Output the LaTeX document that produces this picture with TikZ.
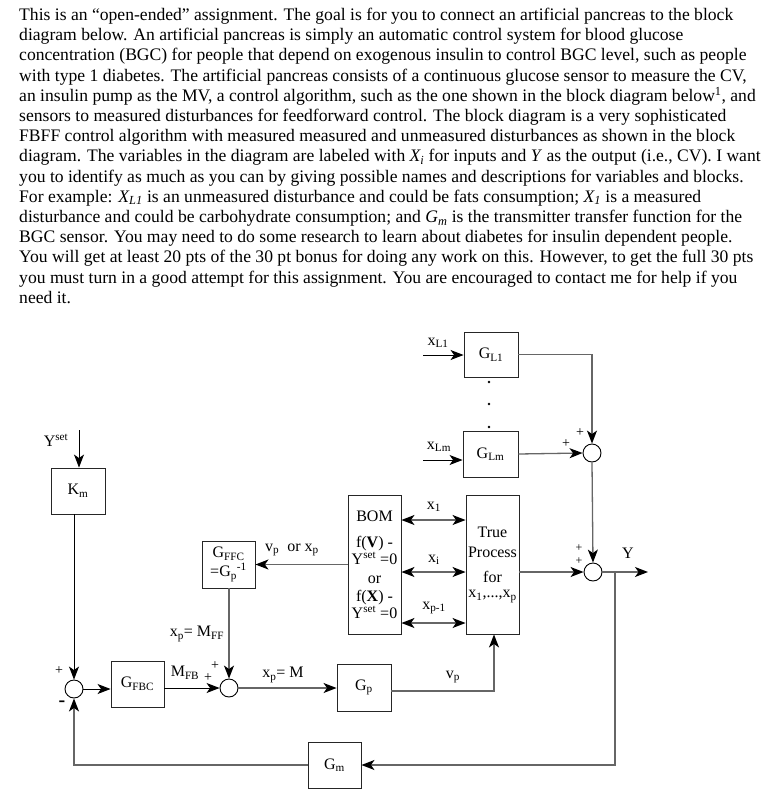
\documentclass[tikz,border=0pt]{standalone}
\usepackage{fontspec}
\setmainfont{Liberation Serif}
\usetikzlibrary{arrows.meta}
\newcommand{\sub}[1]{\textsubscript{#1}}
\newcommand{\sups}[1]{\textsuperscript{#1}}
\begin{document}
\begin{tikzpicture}[x=1pt,y=-1pt,
  para/.style={anchor=base west,inner sep=0pt,font=\fontsize{17.6}{20.2}\selectfont},
  blk/.style={draw=black!85,line width=0.9pt,inner sep=0pt,font=\fontsize{16}{17}\selectfont},
  sumc/.style={circle,draw=black,line width=0.9pt,minimum size=18pt,inner sep=0pt},
  lbl/.style={inner sep=0pt,font=\fontsize{16}{17}\selectfont},
  sgn/.style={inner sep=0pt,font=\fontsize{14}{14}\selectfont},
  tip/.style={-{Stealth[length=13pt,width=10pt,inset=3.5pt,color=black]}},
  dtip/.style={{Stealth[length=13pt,width=10pt,inset=3.5pt,color=black]}-{Stealth[length=13pt,width=10pt,inset=3.5pt,color=black]}},
  bconn/.style={draw=black,line width=0.9pt},
  gconn/.style={draw=black!60,line width=1.3pt}]
\useasboundingbox (0,0) rectangle (781,806);

% ---------- paragraph ----------
\node[para] (p1) at (19,20.5) {This is an “open-ended” assignment. The goal is for you to connect an artificial pancreas to the block};
\node[para] (p2) at (19,40.7) {diagram below. An artificial pancreas is simply an automatic control system for blood glucose};
\node[para] (p3) at (19,60.9) {concentration (BGC) for people that depend on exogenous insulin to control BGC level, such as people};
\node[para] (p4) at (19,81.1) {with type 1 diabetes. The artificial pancreas consists of a continuous glucose sensor to measure the CV,};
\node[para] (p5) at (19,101.3) {an insulin pump as the MV, a control algorithm, such as the one shown in the block diagram below\sups{1}, and};
\node[para] (p6) at (19,121.5) {sensors to measured disturbances for feedforward control. The block diagram is a very sophisticated};
\node[para] (p7) at (19,141.7) {FBFF control algorithm with measured measured and unmeasured disturbances as shown in the block};
\node[para] (p8) at (19,161.9) {diagram. The variables in the diagram are labeled with \textit{X\sub{i}} for inputs and \textit{Y} as the output (i.e., CV). I want};
\node[para] (p9) at (19,182.1) {you to identify as much as you can by giving possible names and descriptions for variables and blocks.};
\node[para] (p10) at (19,202.3) {For example: \textit{X\sub{L1}} is an unmeasured disturbance and could be fats consumption; \textit{X\sub{1}} is a measured};
\node[para] (p11) at (19,222.5) {disturbance and could be carbohydrate consumption; and \textit{G\sub{m}} is the transmitter transfer function for the};
\node[para] (p12) at (19,242.7) {BGC sensor. You may need to do some research to learn about diabetes for insulin dependent people.};
\node[para] (p13) at (19,262.9) {You will get at least 20 pts of the 30 pt bonus for doing any work on this. However, to get the full 30 pts};
\node[para] (p14) at (19,283.1) {you must turn in a good attempt for this assignment. You are encouraged to contact me for help if you};
\node[para] (p15) at (19,303.3) {need it.};

% ---------- blocks ----------
\node[blk,minimum width=54pt,minimum height=45pt] (GL1) at (491,354.5) {G\sub{L1}};
\node[blk,minimum width=55pt,minimum height=46pt] (GLm) at (490.5,454) {G\sub{Lm}};
\node[blk,minimum width=54pt,minimum height=46pt] (Km) at (78,491) {K\sub{m}};
\node[blk,minimum width=53pt,minimum height=47pt,align=center,font=\fontsize{16}{19}\selectfont] (GFFC) at (228.5,564.5) {G\sub{FFC}\\=G\sub{p}\sups{-1}};
\node[blk,minimum width=53pt,minimum height=139pt] (BOM) at (374.5,564.5) {};
\node[blk,minimum width=53pt,minimum height=139pt] (TP) at (492.5,564.5) {};
\node[blk,minimum width=53pt,minimum height=46pt] (GFBC) at (137.5,684) {G\sub{FBC}};
\node[blk,minimum width=54pt,minimum height=47pt] (Gp) at (364,687.5) {G\sub{p}};
\node[blk,minimum width=53pt,minimum height=46pt] (Gm) at (334.5,765) {G\sub{m}};

\node[lbl,align=center,font=\fontsize{16}{15.5}\selectfont] (BOMt) at (374.5,565) {BOM\\[10pt]f(\textbf{V}) -\\Y\sups{set} =0\\[4pt]or\\[2pt]f(\textbf{X}) -\\Y\sups{set} =0};
\node[lbl,align=center,font=\fontsize{16}{20}\selectfont] (TPt) at (492.5,565) {True\\Process\\[5pt]for\\[-5pt]x\sub{1},...,x\sub{p}};

% ---------- sums ----------
\node[sumc] (sumU) at (592,453) {};
\node[sumc] (sumL) at (593,572) {};
\node[sumc] (sum1) at (74,689) {};
\node[sumc] (sum2) at (229,688) {};

% ---------- dots ----------
\fill (489,382) circle (1.4pt);
\fill (489,404) circle (1.4pt);
\fill (489,427) circle (1.4pt);

% ---------- free ends ----------
\coordinate (xl1) at (423,355);
\coordinate (xlm) at (423,460);
\coordinate (ysetc) at (79,430);
\coordinate (yout) at (648,572);
\coordinate (br) at (615,572);
\coordinate (vpc) at (494,691);

% ---------- connectors ----------
\draw[bconn,tip] (xl1) -- (GL1.west |- xl1);
\draw[bconn,tip] (xlm) -- (GLm.west |- xlm);
\draw[gconn,tip] (GL1.east) -| (sumU.north);
\draw[gconn,tip] (GLm.east) -- (sumU.west);
\draw[gconn,tip] (sumU.south) -- (sumL.north);
\draw[gconn,tip] (TP.east |- sumL) -- (sumL.west);
\draw[gconn,tip] (sumL.east) -- (yout);
\draw[gconn,tip] (br) |- (Gm.east);
\draw[gconn,tip] (Gm.west) -| (sum1.south);
\draw[bconn,tip] (ysetc) -- (ysetc |- Km.north);
\draw[bconn,tip] (sum1.north |- Km.south) -- (sum1.north);
\draw[bconn,tip] (sum1.east) -- (GFBC.west |- sum1);
\draw[bconn,tip] (GFBC.east |- sum2) -- (sum2.west);
\draw[gconn,tip] (sum2.east) -- (Gp.west |- sum2);
\draw[gconn,tip] (Gp.east |- vpc) -- (vpc) -- (vpc |- TP.south);
\draw[gconn,tip] (BOM.west) -- (GFFC.east);
\draw[gconn,tip] (GFFC.south -| sum2.north) -- (sum2.north);
\draw[gconn,dtip] (BOM.east |- {(0,520)}) -- (TP.west |- {(0,520)});
\draw[gconn,dtip] (BOM.east |- {(0,572)}) -- (TP.west |- {(0,572)});
\draw[gconn,dtip] (BOM.east |- {(0,623)}) -- (TP.west |- {(0,623)});

% ---------- labels ----------
\node[lbl] (lxl1) at (438,343) {x\sub{L1}};
\node[lbl] (lxlm) at (439,447) {x\sub{Lm}};
\node[sgn] (pu1) at (580,433) {+};
\node[sgn] (pu2) at (566,444) {+};
\node[sgn,font=\fontsize{12}{12}\selectfont] (pl1) at (579,548) {+};
\node[sgn,font=\fontsize{12}{12}\selectfont] (pl2) at (579,561) {+};
\node[lbl] (ly) at (628,553) {Y};
\node[lbl] (lyset) at (56,440) {Y\sups{set}};
\node[lbl] (lvx) at (292,550) {v\sub{p}\enspace or x\sub{p}};
\node[lbl] (lx1) at (434,507) {x\sub{1}};
\node[lbl] (lxi) at (434,560) {x\sub{i}};
\node[lbl] (lxp1) at (434,608) {x\sub{p-1}};
\node[lbl] (lmff) at (197,634) {x\sub{p}= M\sub{FF}};
\node[sgn] (p1p) at (59,671) {+};
\node[lbl,font=\fontsize{20}{20}\selectfont] (p1m) at (62,704) {\textbf{-}};
\node[lbl] (lmfb) at (185,673) {M\sub{FB}};
\node[sgn] (p2a) at (208,678) {+};
\node[sgn] (p2b) at (215,666) {+};
\node[lbl] (lxm) at (283,675) {x\sub{p}= M};
\node[lbl] (lvp) at (453,677) {v\sub{p}};
\end{tikzpicture}
\end{document}
